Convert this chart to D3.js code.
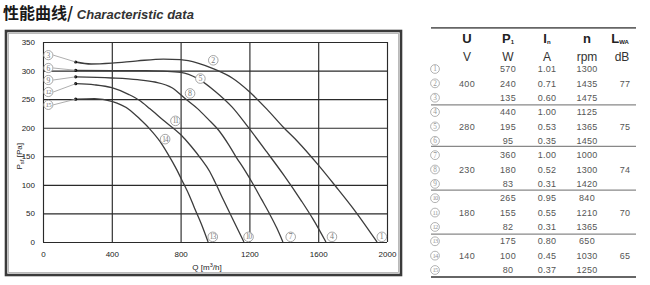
<!DOCTYPE html>
<html><head><meta charset="utf-8">
<script src="https://cdn.jsdelivr.net/npm/d3@7"></script>
<style>
body{margin:0;background:#fff;}
svg{display:block;}
</style></head>
<body>
<svg id="c" width="650" height="285"></svg>
<script>
// ---------- DATA ----------
const xTicks = [0, 400, 800, 1200, 1600, 2000];
const yTicks = [0, 50, 100, 150, 200, 250, 300, 350];

// Curve 400 V (points 1 2 3)
const curve400Q = [190, 280, 400, 550, 700, 800, 900, 1000, 1100, 1200, 1300, 1400, 1480, 1600, 1700, 1820, 1942];
const curve400P = [315, 311.5, 313, 317, 320, 319, 313, 302, 287, 263, 233, 200, 176, 135, 98, 52, 0];
// Curve 280 V (4 5 6)
const curve280Q = [190, 400, 600, 700, 800, 900, 1000, 1100, 1195, 1300, 1400, 1500, 1570, 1645];
const curve280P = [300.5, 300, 300, 299, 297, 286, 264, 236, 200, 158, 117, 73, 40, 0];
// Curve 230 V (7 8 9)
const curve230Q = [190, 400, 550, 650, 750, 826, 900, 960, 1020, 1080, 1120, 1170, 1220, 1270, 1316, 1360, 1395];
const curve230P = [289, 287, 284, 280, 270, 251, 233, 215, 196, 170, 150, 127, 102, 75, 50, 24, 0];
// Curve 180 V (10 11 12)
const curve180Q = [190, 300, 400, 500, 560, 622, 700, 800, 860, 920, 970, 1000, 1050, 1100, 1168];
const curve180P = [277, 275, 270, 258, 248, 233, 213, 188, 168, 145, 123, 105, 73, 42, 0];
// Curve 140 V (13 14 15)
const curve140Q = [190, 300, 400, 500, 560, 620, 680, 730, 775, 816, 850, 880, 920, 960];
const curve140P = [250, 251, 246, 232, 216, 198, 176, 152, 128, 103, 82, 60, 32, 0];

// Curve labels (circled numbers): start, middle, end
const startLabels = [3, 6, 9, 12, 15];
const midLabels = [2, 5, 8, 11, 14];
const endLabels = [1, 4, 7, 10, 13];
const midLabelQ = [990, 915, 855, 770, 710];
const midLabelP = [318, 286, 260, 212, 180];
const endLabelQ = [1970, 1680, 1440, 1195, 987];
const startLabelP = [327, 304.5, 283.5, 262.5, 240];

// Table data
const rowMarks = [1, 2, 3, 4, 5, 6, 7, 8, 9, 10, 11, 12, 13, 14, 15];
const voltages = [400, 280, 230, 180, 140];
const powerW = [570, 240, 135, 440, 195, 95, 360, 180, 83, 265, 155, 82, 175, 100, 80];
const currentA = ["1.01","0.71","0.60","1.00","0.53","0.35","1.00","0.52","0.31","0.95","0.55","0.31","0.80","0.45","0.37"];
const speedRpm = [1300, 1435, 1475, 1125, 1365, 1450, 1000, 1300, 1420, 840, 1210, 1365, 650, 1030, 1250];
const soundDb = [77, 75, 74, 70, 65];

// ---------- DRAW ----------
const svg = d3.select("#c");
const x = d3.scaleLinear().domain([0, 2000]).range([43, 387]);
const y = d3.scaleLinear().domain([0, 350]).range([242, 42]);

// circled number helper (thin circle + real text digits)
function circNum(g, cx, cy, n, r, col) {
  const gg = g.append("g").attr("transform", `translate(${cx},${cy})`);
  gg.append("circle").attr("r", r).attr("fill", "#fff").attr("stroke", col || "#8a8a8a").attr("stroke-width", 0.75);
  const two = n >= 10;
  gg.append("text").attr("text-anchor", "middle").attr("y", r * (two ? 0.5 : 0.55))
    .attr("font-family", "'Liberation Serif', 'DejaVu Serif', serif")
    .attr("font-size", two ? r * 1.5 : r * 1.65).attr("fill", col || "#7a7a7a")
    .attr("letter-spacing", two ? -0.7 : 0).text(n);
}

// Title
const title = svg.append("text").attr("x", 3).attr("y", 19);
title.append("tspan").text("性能曲线/")
  .attr("font-family", "'Noto Sans CJK SC'").attr("font-weight", 700)
  .attr("font-size", 16).attr("fill", "#1a1a1a");
title.append("tspan").text(" Characteristic data")
  .attr("font-family", "'Liberation Sans', Arial, sans-serif").attr("font-weight", 700)
  .attr("font-style", "italic").attr("font-size", 13).attr("fill", "#333");

// Frame
svg.append("rect").attr("x", 6).attr("y", 31).attr("width", 395).attr("height", 244)
  .attr("fill", "none").attr("stroke", "#3a3a3a").attr("stroke-width", 2.6);
svg.append("rect").attr("x", 8.5).attr("y", 33.5).attr("width", 390).attr("height", 239)
  .attr("fill", "none").attr("stroke", "#aaa").attr("stroke-width", 0.8);

// Grid + axes
const gx = svg.append("g").attr("transform", `translate(0,${y(0)})`)
  .call(d3.axisBottom(x).tickValues(xTicks).tickSize(-(y(0) - y(350))).tickPadding(9).tickFormat(d3.format("d")));
const gy = svg.append("g").attr("transform", `translate(${x(0)},0)`)
  .call(d3.axisLeft(y).tickValues(yTicks).tickSize(-(x(2000) - x(0))).tickPadding(8));
[gx, gy].forEach(g => {
  g.select(".domain").remove();
  g.selectAll("line").attr("stroke", "#2a2a2a").attr("stroke-width", 1.15);
  g.selectAll("text").attr("font-family", "'Liberation Sans', Arial, sans-serif")
    .attr("font-size", 8).attr("fill", "#222");
});

// Axis titles
const yt = svg.append("text").attr("transform", `translate(22,${y(150)}) rotate(-90)`)
  .attr("text-anchor", "middle").attr("font-family", "'Liberation Sans', Arial, sans-serif")
  .attr("font-size", 8).attr("fill", "#222");
yt.append("tspan").text("P");
yt.append("tspan").text("sf").attr("font-size", 6).attr("dy", 1.5);
yt.append("tspan").text(" [Pa]").attr("dy", -1.5);
const xt = svg.append("text").attr("x", 207).attr("y", 270)
  .attr("text-anchor", "middle").attr("font-family", "'Liberation Sans', Arial, sans-serif")
  .attr("font-size", 8).attr("fill", "#222");
xt.append("tspan").text("Q [m");
xt.append("tspan").text("3").attr("font-size", 5.5).attr("dy", -3);
xt.append("tspan").text("/h]").attr("dy", 3);

// Curves
const curves = [
  [curve400Q, curve400P], [curve280Q, curve280P], [curve230Q, curve230P],
  [curve180Q, curve180P], [curve140Q, curve140P]
];
const line = d3.line().x(d => x(d[0])).y(d => y(d[1])).curve(d3.curveMonotoneX);

curves.forEach(([qs, ps], i) => {
  const pts = qs.map((q, k) => [q, ps[k]]);
  svg.append("path").attr("d", line(pts)).attr("fill", "none")
    .attr("stroke", "#3c3c3c").attr("stroke-width", 1.3);
  svg.append("circle").attr("cx", x(qs[0])).attr("cy", y(ps[0])).attr("r", 1.6).attr("fill", "#111");
  svg.append("line").attr("x1", x(60)).attr("y1", y(startLabelP[i]))
    .attr("x2", x(qs[0])).attr("y2", y(ps[0])).attr("stroke", "#999").attr("stroke-width", 0.8);
  circNum(svg, x(60) - 5, y(startLabelP[i]), startLabels[i], 4.6);
  circNum(svg, x(midLabelQ[i]), y(midLabelP[i]), midLabels[i], 4.8);
  circNum(svg, x(endLabelQ[i]), y(9), endLabels[i], 4.8);
});

// ---------- TABLE ----------
const rowY = d3.scaleLinear().domain([0, 14]).range([69, 270]);
const colX = { mark: 435, U: 467, P: 508, I: 547, n: 587, L: 622 };
const tf = "'Liberation Sans', Arial, sans-serif";
const T = svg.append("g").attr("font-family", tf);

function head(xp, main, sub) {
  const t = T.append("text").attr("x", xp).attr("y", 43).attr("text-anchor", "middle")
    .attr("font-weight", 700).attr("font-size", 13).attr("fill", "#222");
  t.append("tspan").text(main);
  if (sub) t.append("tspan").text(sub).attr("font-size", 6).attr("dy", 1);
}
head(colX.U, "U");
head(colX.P, "P", "1");
head(colX.I, "I", "n");
head(colX.n, "n");
head(colX.L - 2, "L", "WA");
[["V", colX.U], ["W", colX.P], ["A", colX.I], ["rpm", colX.n], ["dB", colX.L]].forEach(([u, xp]) => {
  T.append("text").attr("x", xp).attr("y", 61).attr("text-anchor", "middle")
    .attr("font-size", 12).attr("fill", "#333").text(u);
});

const lineYs = [27.8, (rowY(2) + rowY(3)) / 2, (rowY(5) + rowY(6)) / 2 - 1.5,
  (rowY(8) + rowY(9)) / 2 - 1, (rowY(11) + rowY(12)) / 2, rowY(14) + 7];
lineYs.forEach((ly, k) => {
  T.append("line").attr("x1", 431).attr("x2", 636).attr("y1", ly).attr("y2", ly)
    .attr("stroke", k === 0 || k === 5 ? "#666" : "#888").attr("stroke-width", k === 0 || k === 5 ? 1.8 : 1.2);
});

rowMarks.forEach((m, r) => {
  const yy = rowY(r);
  circNum(T, colX.mark, yy, m, 4.4, "#999");
  const cell = (xp, v) => T.append("text").attr("x", xp).attr("y", yy + 3.2).attr("text-anchor", "middle")
    .attr("font-size", 9).attr("fill", "#555").attr("letter-spacing", 0.3).text(v);
  cell(colX.P, powerW[r]);
  cell(colX.I, currentA[r]);
  cell(colX.n, speedRpm[r]);
  if (r % 3 === 1) {
    cell(colX.U, voltages[(r - 1) / 3]);
    cell(colX.L + 3, soundDb[(r - 1) / 3]);
  }
});
</script>
</body></html>
